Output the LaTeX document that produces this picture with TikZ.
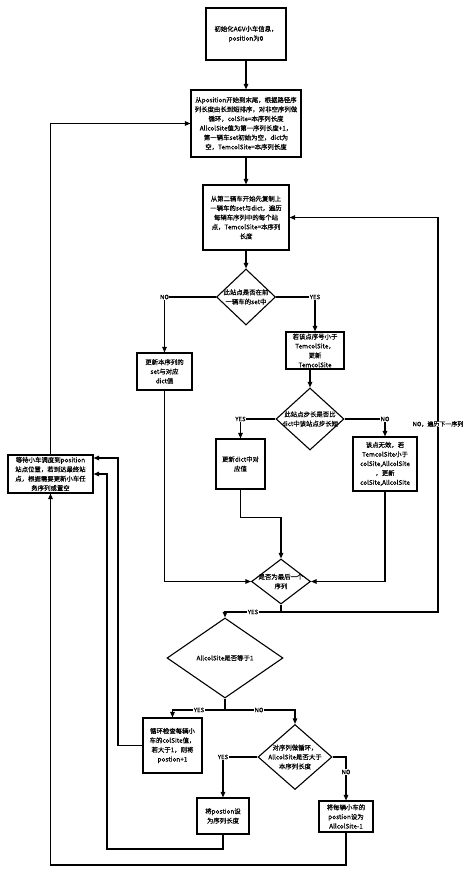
\documentclass[tikz,border=0pt]{standalone}
\usepackage{fontspec}
\setmainfont{Noto Sans CJK SC}[FakeBold=0.5]
\usetikzlibrary{shapes.geometric,arrows.meta}
\newcommand{\myft}{\fontsize{6.4}{9.4}\selectfont}
\newcommand{\mylf}{\fontsize{6}{7}\selectfont}
\tikzset{
  box/.style={draw, line width=1.1pt, align=center, inner sep=1pt, font=\myft},
  dia/.style={draw, diamond, line width=1.1pt, inner sep=0pt},
  dtxt/.style={align=center, inner sep=0pt, font=\myft},
  lbl/.style={fill=white, inner sep=0.6pt, font=\mylf},
  conn/.style={line width=1.1pt},
  arr/.style={conn, -{Triangle[length=5.5pt,width=4.5pt]}},
}
\begin{document}
\begin{tikzpicture}[x=1pt,y=-1pt]
\fill[white] (0,0) rectangle (474,874);
\useasboundingbox (0,0) rectangle (474,874);

% boxes
\node[box, minimum width=80pt, minimum height=52pt] (b1) at (246,34) {初始化AGV小车信息，\\position为0};
\node[box, minimum width=110pt, minimum height=67pt] (b2) at (246,123.5) {从position开始到末尾，根据路径序\\列长度由长到短排序，对非空序列做\\循环，colSite=本序列长度\\AllcolSite值为第一序列长度+1，\\第一辆车set初始为空，dict为\\空，TemcolSite=本序列长度};
\node[box, minimum width=86pt, minimum height=65pt] (b3) at (246,217.5) {从第二辆车开始先复制上\\一辆车的set与dict，遍历\\每辆车序列中的每个站\\点，TemcolSite=本序列\\长度};

\node[dia, minimum width=59pt, minimum height=56pt] (d1) at (246,297) {};
\node[dtxt] at (d1) {此站点是否在前\\一辆车的set中};

\node[box, minimum width=55pt, minimum height=37pt] (b4) at (164.5,371.5) {更新本序列的\\set与对应\\dict值};
\node[box, minimum width=58pt, minimum height=37pt] (b5) at (315,350.5) {若该点序号小于\\TemcolSite，\\更新\\TemcolSite};

\node[dia, minimum width=68pt, minimum height=62pt] (d2) at (310,419) {};
\node[dtxt] at (d2) {此站点步长是否比\\dict中该站点步长短};

\node[box, minimum width=49pt, minimum height=50pt] (b6) at (240.5,464) {更新dict中对\\应值};
\node[box, minimum width=64pt, minimum height=54pt] (b7) at (385,464) {该点无效，若\\TemcolSite小于\\colSite,AllcolSite\\，更新\\colSite,AllcolSite};

\node[dia, minimum width=59pt, minimum height=45pt] (d3) at (281,581.5) {};
\node[dtxt] at (d3) {是否为最后一个\\序列};

\node[dia, minimum width=116pt, minimum height=80pt] (d4) at (225,658) {};
\node[dtxt] at (d4) {AllcolSite是否等于1};

\node[box, minimum width=59pt, minimum height=55pt] (b8) at (172.5,745.5) {循环检查每辆小\\车的colSite值，\\若大于1，则将\\postion+1};

\node[dia, minimum width=74pt, minimum height=65pt] (d5) at (295,757) {};
\node[dtxt] at (d5) {对序列做循环，\\AllcolSite是否大于\\本序列长度};

\node[box, minimum width=52pt, minimum height=36pt] (b9) at (223,816) {将postion设\\为序列长度};
\node[box, minimum width=54pt, minimum height=31pt] (b10) at (346,816.5) {将每辆小车的\\postion设为\\AllcolSite-1};

\node[box, minimum width=85pt, minimum height=38pt] (wt) at (50.5,474) {等待小车调度到position\\站点位置，若到达最终站\\点，根据需要更新小车任\\务序列或置空};

% coordinates
\coordinate (j1) at (281,612);
\coordinate (c1) at (438,612);
\coordinate (j2) at (225,710);
\coordinate (c2) at (118,458);
\coordinate (c3) at (107,849);
\coordinate (c4) at (50.5,865);

% connectors
\draw[arr] (b1) -- (b2);
\draw[arr] (b2) -- (b3);
\draw[arr] (b3) -- (d1);
\draw[arr] (d1.west) -| (b4.north);
\draw[arr] (d1.east) -| (b5.north);
\draw[arr] (b5.south -| d2.north) -- (d2.north);
\draw[arr] (d2.west) -| (b6.north);
\draw[arr] (d2.east) -| (b7.north);
\draw[arr] (b4.south) |- (d3.west);
\draw[arr] (b7.south) |- (d3.east);
\draw[arr] (b6.south) -- ++(0,28) -| (d3.north);
\draw[conn] (d3.south) -- (j1);
\draw[arr] (j1) -| (d4.north);
\draw[arr] (j1) -- (c1) |- (b3.east);
\draw[conn] (d4.south) -- (j2);
\draw[arr] (j2) -| (b8.north);
\draw[arr] (j2) -| (d5.north);
\draw[arr] (d5.west) -| (b9.north);
\draw[arr] (d5.east) -| (b10.north);
\draw[arr] (b8.west) -| (c2) -- (wt.east |- c2);
\draw[arr] (b9.south) |- (c3) -- (c3 |- wt.east) -- (wt.east);
\draw[arr] (b10.south) |- (c4) -- (wt.south);
\draw[arr] (wt.north) |- (b2.west);

% labels
\node[lbl] at (b4.north |- d1.west) {NO};
\node[lbl] at (b5.north |- d1.east) {YES};
\node[lbl] at (b6.north |- d2.west) {YES};
\node[lbl] at (b7.north |- d2.east) {NO};
\node[lbl] at (253,612) {YES};
\node[lbl] at (438,424) {NO，遍历下一序列};
\node[lbl] at (199,710) {YES};
\node[lbl] at (259,710) {NO};
\node[lbl] at (b9.north |- d5.west) {YES};
\node[lbl] at (346,772) {NO};
\end{tikzpicture}
\end{document}
